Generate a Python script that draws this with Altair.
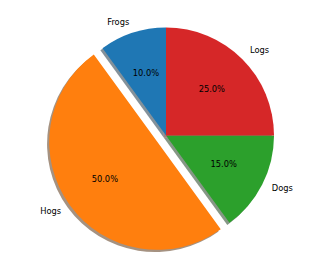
import math
import altair as alt
import pandas as pd

# ---- data ----
labels = ["Frogs", "Hogs", "Dogs", "Logs"]
sizes = [10, 50, 15, 25]
explode = [0, 0.1, 0, 0]
# clockwise drawing order from 12 o'clock (matplotlib draws counter-clockwise from 90 deg)
cw_order = [4, 3, 2, 1]
colors = ["#1f77b4", "#ff7f0e", "#2ca02c", "#d62728"]

# ---- styling ----
R = 108
FONT = "DejaVu Sans"
FS = 8.3
SH = 0.02 * R  # shadow offset


def shade(hexcol):
    r, g, b = (int(hexcol[i:i + 2], 16) for i in (1, 3, 5))
    return "#%02x%02x%02x" % (int(0.3 * r), int(0.3 * g), int(0.3 * b))


shadow_colors = [shade(c) for c in colors]
total = sum(sizes)

df = pd.DataFrame({"label": labels, "size": sizes, "explode": explode, "order": cw_order})

# explode offset for the exploded wedge(s), from their mid angle
offsets = {}
srt = sorted(zip(cw_order, labels, sizes, explode))
cum = 0
for _, lab, s, ex in srt:
    mid = (cum + s / 2) / total * 2 * math.pi
    cum += s
    offsets[lab] = (ex * R * math.sin(mid), -ex * R * math.cos(mid))

theta_scale = alt.Scale(domain=[0, total], range=[0, 2 * math.pi])

base = alt.Chart(df).transform_window(
    cum="sum(size)", sort=[alt.SortField("order", order="ascending")], frame=[None, 0]
).transform_calculate(
    start="datum.cum - datum.size",
    mid="datum.cum - datum.size / 2",
    pct="format(datum.size / %f * 100, '.1f') + '%%'" % total,
)

exploded = [l for l, e in zip(labels, explode) if e > 0]
plain = [l for l, e in zip(labels, explode) if e == 0]


def arc_layer(labs, dx, dy, palette, opacity):
    return base.transform_filter(
        alt.FieldOneOfPredicate(field="label", oneOf=labs)
    ).mark_arc(outerRadius=R, xOffset=dx, yOffset=dy, opacity=opacity).encode(
        theta=alt.Theta("start:Q", scale=theta_scale),
        theta2="cum:Q",
        color=alt.Color("label:N", scale=alt.Scale(domain=labels, range=palette), legend=None),
    )


def text_layer(labs, dx, dy, radius, align, field):
    return base.transform_filter(
        alt.FieldOneOfPredicate(field="label", oneOf=labs)
    ).mark_text(
        radius=radius, align=align, baseline="middle", xOffset=dx, yOffset=dy,
        font=FONT, fontSize=FS, color="black",
    ).encode(
        theta=alt.Theta("mid:Q", scale=theta_scale),
        text=f"{field}:N",
    )


layers = []
# shadows
layers.append(arc_layer(plain, -SH, SH, shadow_colors, 0.5))
for lab in exploded:
    dx, dy = offsets[lab]
    layers.append(arc_layer([lab], dx - SH, dy + SH, shadow_colors, 0.5))
# wedges
layers.append(arc_layer(plain, 0, 0, colors, 1))
for lab in exploded:
    dx, dy = offsets[lab]
    layers.append(arc_layer([lab], dx, dy, colors, 1))

# labels and percentages
for lab in labels:
    dx, dy = offsets[lab]
    # side determined from mid angle
    idx = labels.index(lab)
    side_x = dx  # placeholder
    layers.append(text_layer([lab], dx, dy, 0.6 * R, "center", "pct"))

left_side = []
right_side = []
for _, lab, s, ex in srt:
    pass
cum = 0
for _, lab, s, ex in srt:
    mid = (cum + s / 2) / total * 2 * math.pi
    cum += s
    (left_side if math.sin(mid) < 0 else right_side).append(lab)

for lab in left_side:
    dx, dy = offsets[lab]
    layers.append(text_layer([lab], dx, dy, 1.1 * R, "right", "label"))
for lab in right_side:
    dx, dy = offsets[lab]
    layers.append(text_layer([lab], dx, dy, 1.1 * R, "left", "label"))

chart = alt.layer(*layers).resolve_scale(color="independent").properties(
    width=316, height=271, autosize=alt.AutoSizeParams(type="none"),
    padding={"left": 8, "right": 0, "top": 0, "bottom": 0},
).configure_view(stroke=None)

chart.save("out.html", embed_options={"renderer": "svg", "actions": False})
